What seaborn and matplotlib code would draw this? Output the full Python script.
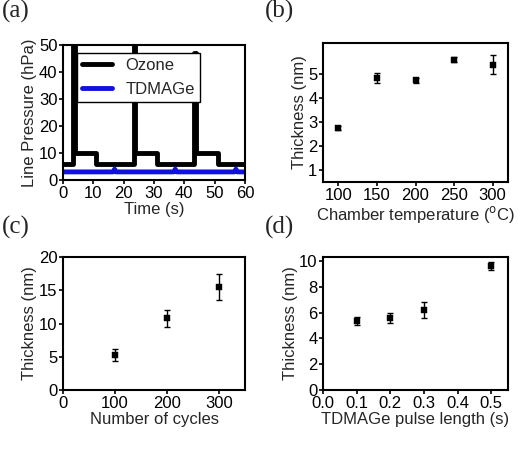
import numpy as np
import matplotlib
matplotlib.use("Agg")
import matplotlib.pyplot as plt
import seaborn as sns
import pandas as pd

sns.set_style("ticks")
plt.rcParams['font.family'] = ['Liberation Sans', 'DejaVu Sans']

# (a) pressure traces
ozone_t = [0, 3.3, 3.3, 3.8, 3.8, 11, 11, 23.3, 23.3, 23.8, 23.8, 31, 31, 43.3, 43.3, 43.8, 43.8, 51, 51, 60]
ozone_p = [6, 6, 50, 50, 10, 10, 6, 6, 50, 50, 10, 10, 6, 6, 47, 47, 10, 10, 6, 6]
tdma_t = [0, 16.5, 17, 17.5, 36.5, 37, 37.5, 56.5, 57, 57.5, 60]
tdma_p = [3, 3, 4, 3, 3, 4, 3, 3, 4, 3, 3]

# (b)
temp = [100, 150, 200, 250, 300]
thick_b = [2.75, 4.85, 4.75, 5.6, 5.4]
err_b = [0.1, 0.2, 0.1, 0.1, 0.4]
# (c)
cycles = [100, 200, 300]
thick_c = [5.3, 10.8, 15.5]
err_c = [0.9, 1.3, 1.9]
# (d)
pulse = [0.1, 0.2, 0.3, 0.5]
thick_d = [5.35, 5.6, 6.2, 9.6]
err_d = [0.3, 0.4, 0.6, 0.3]

fig = plt.figure(figsize=(5.2, 4.49), dpi=100)
W, H = 520, 449
def add_ax(x0, x1, y0, y1):
    return fig.add_axes([x0 / W, 1 - y1 / H, (x1 - x0) / W, (y1 - y0) / H])

axa = add_ax(63, 245, 45, 180)
axb = add_ax(323, 508, 43, 182)
axc = add_ax(63, 245, 257, 390)
axd = add_ax(323, 508, 257, 390)

fs = 12
sns.lineplot(x=ozone_t, y=ozone_p, ax=axa, color='black', lw=3.5, label='Ozone',
             sort=False, estimator=None)
sns.lineplot(x=tdma_t, y=tdma_p, ax=axa, color='#1010e0', lw=3.5, label='TDMAGe',
             sort=False, estimator=None)
axa.set_xlim(0, 60)
axa.set_ylim(0, 50)
axa.set_xticks(range(0, 61, 10))
axa.set_yticks(range(0, 51, 10))
axa.set_xlabel('Time (s)', fontsize=fs, labelpad=1)
axa.set_ylabel('Line Pressure (hPa)', fontsize=fs, labelpad=1)
leg = axa.legend(loc='upper left', fontsize=fs, frameon=True, fancybox=False, framealpha=1,
                 edgecolor='black', borderpad=0.3, handlelength=1.8, bbox_to_anchor=(0.03, 1.0))
leg.get_frame().set_linewidth(1)

def scatter_err(ax, x, y, e):
    df = pd.DataFrame({'x': x, 'y': y})
    ax.errorbar(x, y, yerr=e, fmt='none', ecolor='black', capsize=2, lw=1)
    sns.scatterplot(data=df, x='x', y='y', ax=ax, color='black', marker='s', s=14, edgecolor='black')

scatter_err(axb, temp, thick_b, err_b)
axb.set_xlim(80, 320)
axb.set_ylim(0.5, 6.3)
axb.set_xticks(temp)
axb.set_yticks([1, 2, 3, 4, 5])
axb.set_xlabel('Chamber temperature ($^{\\mathrm{o}}$C)', fontsize=fs, labelpad=1)
axb.set_ylabel('Thickness (nm)', fontsize=fs, labelpad=1)

scatter_err(axc, cycles, thick_c, err_c)
axc.set_xlim(0, 350)
axc.set_ylim(0, 20)
axc.set_xticks([0, 100, 200, 300])
axc.set_yticks(range(0, 21, 5))
axc.set_xlabel('Number of cycles', fontsize=fs, labelpad=1)
axc.set_ylabel('Thickness (nm)', fontsize=fs, labelpad=1)

scatter_err(axd, pulse, thick_d, err_d)
axd.set_xlim(0, 0.55)
axd.set_ylim(0, 10.3)
axd.set_xticks(np.arange(0, 0.51, 0.1))
axd.set_xticklabels(['0.0', '0.1', '0.2', '0.3', '0.4', '0.5'])
axd.set_yticks(range(0, 11, 2))
axd.set_xlabel('TDMAGe pulse length (s)', fontsize=fs, labelpad=1)
axd.set_ylabel('Thickness (nm)', fontsize=fs, labelpad=1)

for ax in (axa, axb, axc, axd):
    for s in ax.spines.values():
        s.set_visible(True)
        s.set_linewidth(1.5)
        s.set_color('black')
    ax.tick_params(labelsize=fs, width=1.2, direction='out', length=3, colors='black', pad=1)

for lab, x, y in [('(a)', 2, 0), ('(b)', 265, 0), ('(c)', 2, 216), ('(d)', 265, 216)]:
    fig.text(x / W, 1 - y / H, lab, fontsize=18, family='Liberation Serif', va='top', ha='left')

fig.savefig('out.png', dpi=100)
